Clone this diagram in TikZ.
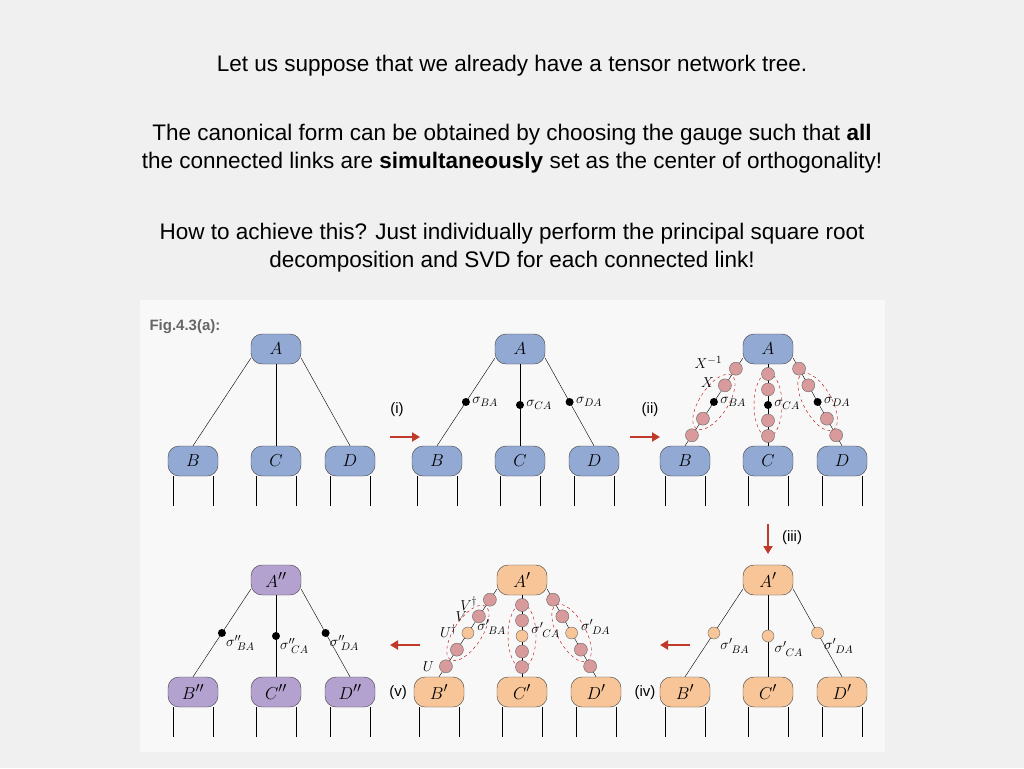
\documentclass[tikz,border=0pt]{standalone}
\usepackage{fontspec}
\setmainfont{Liberation Sans}
\usetikzlibrary{shapes.geometric,positioning,arrows.meta}
\definecolor{slidebg}{HTML}{F0F0F0}
\definecolor{nodeblue}{HTML}{92A9D4}
\definecolor{nodeorange}{HTML}{F7C597}
\definecolor{nodepurple}{HTML}{B3A2CF}
\definecolor{beadpink}{HTML}{D89A9A}
\definecolor{stepred}{HTML}{C0392B}

\tikzset{
    tensor/.style={rounded corners=11pt,draw=black!75,minimum width=50pt,minimum height=30pt,inner sep=0pt,font=\fontsize{19}{21}\selectfont},
    blue node/.style={tensor,fill=nodeblue},
    orange node/.style={tensor,fill=nodeorange},
    purple node/.style={tensor,fill=nodepurple},
    bead/.style={circle,draw=black!60,fill=beadpink,minimum size=13pt,inner sep=0pt},
    lambda/.style={circle,fill=black,minimum size=8pt,inner sep=0pt},
    lambda o/.style={circle,draw=black!60,fill=nodeorange,minimum size=12pt,inner sep=0pt},
    gauge loop/.style={ellipse,draw=red!75!black,dashed,sloped,minimum width=64pt,minimum height=28pt,inner sep=0pt},
    step arrow/.style={-{Triangle[length=8pt,width=9pt]},line width=2.5pt,draw=stepred},
    lbl/.style={font=\fontsize{15}{17}\selectfont,inner sep=1pt},
    step lbl/.style={font=\fontsize{15}{17}\selectfont}
}

% one tree: prefix, x, y, style, prime
\newcommand{\mktree}[5]{%
    \node[#4] (#1A) at (#2,#3) {$A#5$};
    \node[#4] (#1B) at (#2-83,#3+112) {$B#5$};
    \node[#4] (#1C) at (#2,#3+112) {$C#5$};
    \node[#4] (#1D) at (#2+74,#3+112) {$D#5$};
    \draw (#1A.200) -- (#1B.north);
    \draw (#1A.south) -- (#1C.north);
    \draw (#1A.340) -- (#1D.north);
    \foreach \n in {B,C,D}{
        \draw ([xshift=-20pt]#1\n.south) -- ++(0,30);
        \draw ([xshift=20pt]#1\n.south) -- ++(0,30);
    }%
}

\begin{document}
\begin{tikzpicture}[x=1pt,y=-1pt]
    \fill[slidebg] (0,0) rectangle (1024,768);
    \useasboundingbox (0,0) rectangle (1024,768);
    \fill[white!50!slidebg] (140,300) rectangle (885,752);

    % slide text
    \node[font=\fontsize{22.5}{28}\selectfont] (t1) at (512,66) {Let us suppose that we already have a tensor network tree.};
    \node[font=\fontsize{22.5}{28}\selectfont,align=center] (t2) at (512,149)
        {The canonical form can be obtained by choosing the gauge such that \textbf{all}\\
         the connected links are \textbf{simultaneously} set as the center of orthogonality!};
    \node[font=\fontsize{22.5}{28}\selectfont,align=center] (t3) at (512,248)
        {How to achieve this? Just individually perform the principal square root\\
         decomposition and SVD for each connected link!};
    \node[font=\bfseries\fontsize{15}{17}\selectfont,text=black!60,anchor=west] (fig) at (146,327) {Fig.4.3(a):};

    % top row
    \mktree{p}{276}{349}{blue node}{}
    \mktree{q}{520}{349}{blue node}{}
    \mktree{r}{768}{349}{blue node}{}
    % bottom row
    \mktree{u}{276}{580}{purple node}{''}
    \mktree{v}{522}{580}{orange node}{'}
    \mktree{w}{768}{580}{orange node}{'}

    % (i): singular values on the links
    \path (qA.200) -- (qB.north) node[pos=.5,lambda] (qsB) {};
    \path (qA.south) -- (qC.north) node[pos=.5,lambda] (qsC) {};
    \path (qA.340) -- (qD.north) node[pos=.5,lambda] (qsD) {};
    \node[lbl,right=1pt of qsB] {$\sigma_{BA}$};
    \node[lbl,right=1pt of qsC] {$\sigma_{CA}$};
    \node[lbl,right=1pt of qsD] {$\sigma_{DA}$};

    % (ii): X and X^{-1} on each link
    \foreach \n/\s in {B/200,C/south,D/340}{
        \path (rA.\s) -- (r\n.north)
            node[pos=.5,gauge loop]{}
            node[pos=.12,bead] (r\n1) {}
            node[pos=.31,bead] (r\n2) {}
            node[pos=.5,lambda] (r\n3) {}
            node[pos=.69,bead] (r\n4) {}
            node[pos=.88,bead] (r\n5) {};
    }
    \node[lbl,right=1pt of rB3] {$\sigma_{BA}$};
    \node[lbl,right=1pt of rC3] {$\sigma_{CA}$};
    \node[lbl,right=1pt of rD3] {$\sigma_{DA}$};
    \node[lbl,left=6pt of rB1,yshift=6pt] {$X^{-1}$};
    \node[lbl,left=3pt of rB2,yshift=3pt] {$X$};

    % (iv): U, V on each link
    \foreach \n/\s in {B/200,C/south,D/340}{
        \path (vA.\s) -- (v\n.north)
            node[pos=.5,gauge loop]{}
            node[pos=.12,bead] (v\n1) {}
            node[pos=.31,bead] (v\n2) {}
            node[pos=.5,lambda o] (v\n3) {}
            node[pos=.69,bead] (v\n4) {}
            node[pos=.88,bead] (v\n5) {};
    }
    \node[lbl,right=2pt of vB3,yshift=6pt] {$\sigma'_{\;BA}$};
    \node[lbl,right=2pt of vC3,yshift=6pt] {$\sigma'_{\;CA}$};
    \node[lbl,right=2pt of vD3,yshift=6pt] {$\sigma'_{\;DA}$};
    \node[lbl,left=5pt of vB1,yshift=-4pt] {$V^\dagger$};
    \node[lbl,left=4pt of vB2] {$V$};
    \node[lbl,left=4pt of vB3,yshift=2pt] {$U^\dagger$};
    \node[lbl,left=4pt of vB5] {$U$};

    % (iii): gauge fixed singular values
    \path (wA.200) -- (wB.north) node[pos=.5,lambda o] (wsB) {};
    \path (wA.south) -- (wC.north) node[pos=.5,lambda o] (wsC) {};
    \path (wA.340) -- (wD.north) node[pos=.5,lambda o] (wsD) {};
    \node[lbl,below right=0pt and 1pt of wsB] {$\sigma'_{\;BA}$};
    \node[lbl,below right=0pt and 1pt of wsC] {$\sigma'_{\;CA}$};
    \node[lbl,below right=0pt and 1pt of wsD] {$\sigma'_{\;DA}$};

    % (v): canonical form
    \path (uA.200) -- (uB.north) node[pos=.5,lambda] (usB) {};
    \path (uA.south) -- (uC.north) node[pos=.5,lambda] (usC) {};
    \path (uA.340) -- (uD.north) node[pos=.5,lambda] (usD) {};
    \node[lbl,below right=-2pt and 0pt of usB] {$\sigma''_{\;BA}$};
    \node[lbl,below right=-2pt and 0pt of usC] {$\sigma''_{\;CA}$};
    \node[lbl,below right=-2pt and 0pt of usD] {$\sigma''_{\;DA}$};

    % steps
    \coordinate (s1a) at (390,437); \coordinate (s1b) at (420,437);
    \draw[step arrow] (s1a) -- (s1b);
    \node[step lbl] (l1) at (397,410) {(i)};
    \coordinate (s2a) at (630,437); \coordinate (s2b) at (660,437);
    \draw[step arrow] (s2a) -- (s2b);
    \node[step lbl] (l2) at (650,410) {(ii)};
    \coordinate (s3a) at (768,524); \coordinate (s3b) at (768,554);
    \draw[step arrow] (s3a) -- (s3b);
    \node[step lbl] (l3) at (792,538) {(iii)};
    \coordinate (s4a) at (690,645); \coordinate (s4b) at (660,645);
    \draw[step arrow] (s4a) -- (s4b);
    \node[step lbl] (l4) at (645,693) {(iv)};
    \coordinate (s5a) at (420,645); \coordinate (s5b) at (390,645);
    \draw[step arrow] (s5a) -- (s5b);
    \node[step lbl] (l5) at (398,693) {(v)};
\end{tikzpicture}
\end{document}
